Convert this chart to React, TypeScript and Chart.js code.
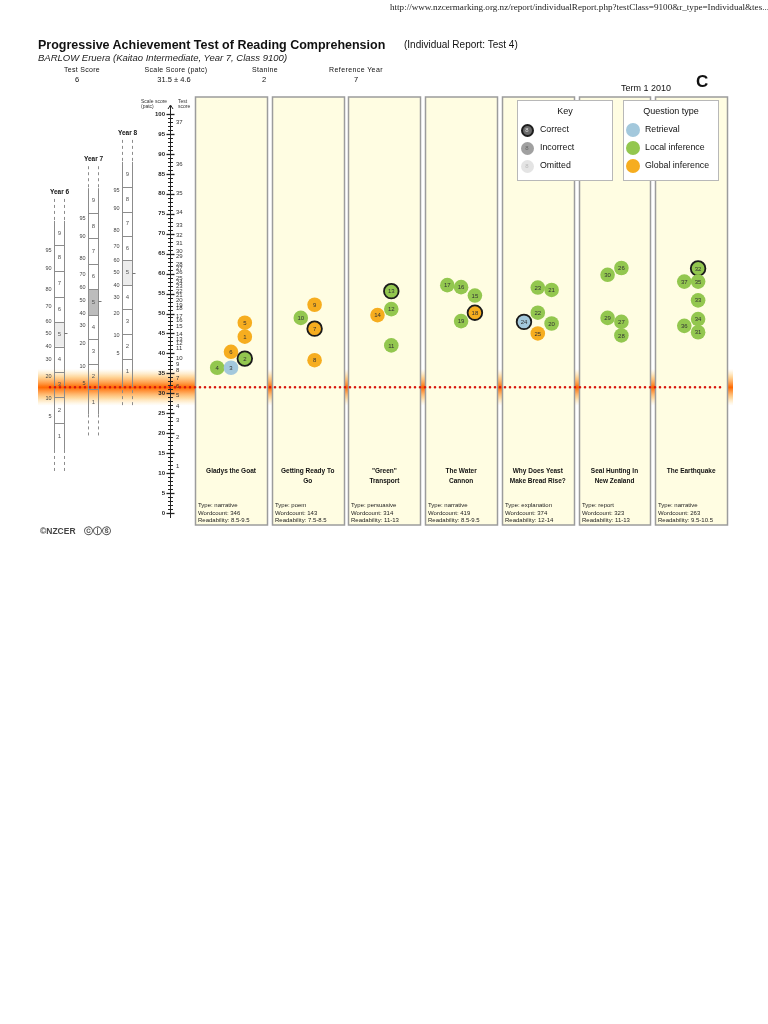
import React, { useEffect, useRef } from "react";
import { Chart, registerables } from "chart.js";

Chart.register(...registerables);

// ---------------- DATA ----------------
const reportTitle = "Progressive Achievement Test of Reading Comprehension";
const reportSubtitle = "(Individual Report: Test 4)";
const studentLine = "BARLOW Eruera (Kaitao Intermediate, Year 7, Class 9100)";
const pageUrl = "http://www.nzcermarking.org.nz/report/individualReport.php?testClass=9100&r_type=Individual&tes...";
const termLabel = "Term 1 2010";
const levelLetter = "C";

const testScore = 6;
const scaleScore = 31.5;
const scaleError = 4.6;
const stanine = 2;
const referenceYear = 7;

const passageTitles = [
  ["Gladys the Goat"],
  ["Getting Ready To", "Go"],
  ['"Green"', "Transport"],
  ["The Water", "Cannon"],
  ["Why Does Yeast", "Make Bread Rise?"],
  ["Seal Hunting In", "New Zealand"],
  ["The Earthquake"],
];
const passageTypes = ["narrative", "poem", "persuasive", "narrative", "explanation", "report", "narrative"];
const passageWordcounts = [346, 143, 314, 419, 374, 323, 263];
const passageReadability = ["8.5-9.5", "7.5-8.5", "11-13", "8.5-9.5", "12-14", "11-13", "9.5-10.5"];

const questionNumbers = [
  1, 2, 3, 4, 5, 6, 7, 8, 9, 10, 11, 12, 13, 14, 15, 16, 17, 18, 19, 20,
  21, 22, 23, 24, 25, 26, 27, 28, 29, 30, 31, 32, 33, 34, 35, 36, 37,
];
const questionPassage = [
  0, 0, 0, 0, 0, 0, 1, 1, 1, 1, 2, 2, 2, 2, 3, 3, 3, 3, 3, 4,
  4, 4, 4, 4, 4, 5, 5, 5, 5, 5, 6, 6, 6, 6, 6, 6, 6,
];
const questionDifficulty = [
  44.2, 38.7, 36.4, 36.4, 47.7, 40.4, 46.2, 38.3, 52.2, 48.9, 42.0, 51.1, 55.6, 49.6, 54.5, 56.6, 57.1, 50.2, 48.1, 47.5,
  55.9, 50.2, 56.5, 47.9, 45.0, 61.4, 47.9, 44.5, 48.9, 59.7, 45.3, 61.3, 53.3, 48.6, 58.0, 46.9, 58.0,
];
// R = retrieval, L = local inference, G = global inference
const questionType = [
  "G", "L", "R", "L", "G", "G", "G", "G", "G", "L", "L", "L", "L", "G", "L", "L", "L", "G", "L", "L",
  "L", "L", "L", "R", "G", "L", "L", "L", "L", "L", "L", "L", "L", "L", "L", "L", "L",
];
// side-by-side lane within a passage column (beeswarm slot)
const questionLane = [
  2, 2, 0, -2, 2, 0, 1, 1, 1, -1, 1, 1, 1, -1, 2, 0, -2, 2, 0, 2,
  2, 0, 0, -2, 0, 1, 1, 1, -1, -1, 1, 1, 1, 1, 1, -1, -1,
];
const questionCorrect = [
  0, 1, 0, 0, 0, 0, 1, 0, 0, 0, 0, 0, 1, 0, 0, 0, 0, 1, 0, 0,
  0, 0, 0, 1, 0, 0, 0, 0, 0, 0, 0, 1, 0, 0, 0, 0, 0,
];

const typeCodes = ["R", "L", "G"];
const typeNames = ["Retrieval", "Local inference", "Global inference"];
const keyNames = ["Correct", "Incorrect", "Omitted"];

const scaleTickLabels = [0, 5, 10, 15, 20, 25, 30, 35, 40, 45, 50, 55, 60, 65, 70, 75, 80, 85, 90, 95, 100];
const testScoreLabels = [
  1, 2, 3, 4, 5, 6, 7, 8, 9, 10, 11, 12, 13, 14, 15, 16, 17, 18, 19, 20,
  21, 22, 23, 24, 25, 26, 27, 28, 29, 30, 31, 32, 33, 34, 35, 36, 37,
];
const testScoreAt = [
  11.8, 19.0, 23.3, 26.8, 29.6, 31.7, 33.7, 35.7, 37.2, 38.8, 41.2, 42.4, 43.5, 44.9, 46.7, 48.2, 49.4, 51.2, 52.1, 53.4,
  54.6, 55.6, 56.7, 57.7, 58.9, 60.2, 61.2, 62.2, 64.2, 65.6, 67.6, 69.5, 72.2, 75.4, 80.0, 87.5, 98.0,
];

const yearLabels = ["Year 6", "Year 7", "Year 8"];
// stanine boundaries (scale score), top of stanine 9 down to bottom of stanine 1
const stanineYear6 = [73.2, 67.2, 60.7, 54.2, 47.9, 41.7, 35.3, 29.1, 22.5, 15.8];
const stanineYear7 = [81.4, 75.1, 68.8, 62.4, 56.1, 49.6, 43.5, 37.3, 31.0, 24.7];
const stanineYear8 = [88.0, 81.8, 75.5, 69.5, 63.4, 57.1, 51.1, 44.8, 38.6, 32.3];
const percentileLabels = [95, 90, 80, 70, 60, 50, 40, 30, 20, 10, 5];
const percentileYear6 = [65.9, 61.3, 55.9, 51.7, 48.1, 45.0, 41.7, 38.5, 34.2, 28.7, 24.1];
const percentileYear7 = [73.9, 69.4, 63.8, 59.8, 56.5, 53.2, 49.9, 46.9, 42.5, 36.8, 32.5];
const percentileYear8 = [80.8, 76.4, 70.7, 66.9, 63.4, 60.2, 57.0, 54.1, 50.0, 44.6, 40.0];

// ---------------- STYLE ----------------
const SANS = '"Liberation Sans", Arial, sans-serif';
const SERIF = '"Liberation Serif", "Times New Roman", serif';
const typeColors = ["#a3c8dc", "#93c74f", "#f6ad1f"];
const columnFill = "#fffde2";
const columnEdge = "#9c9c9c";
const laneStep = 0.09;
const colHalf = 0.469;
const barLefts = [54, 88, 122];
const barWidth = 10;
const stanineFive = ["#ececec", "#bcbcbc", "#ececec"];

const stanineSets = [stanineYear6, stanineYear7, stanineYear8];
const percentileSets = [percentileYear6, percentileYear7, percentileYear8];

function line(ctx: CanvasRenderingContext2D, x1: number, y1: number, x2: number, y2: number) {
  ctx.beginPath();
  ctx.moveTo(x1, y1);
  ctx.lineTo(x2, y2);
  ctx.stroke();
}

const reportPlugin = {
  id: "reportPlugin",
  beforeDraw(chart: any) {
    const { ctx, chartArea: ca, scales } = chart;
    const x = scales.x;
    const y = scales.y;
    ctx.save();

    // error band
    const bTop = y.getPixelForValue(scaleScore + scaleError);
    const bBot = y.getPixelForValue(scaleScore - scaleError);
    const g = ctx.createLinearGradient(0, bTop, 0, bBot);
    g.addColorStop(0, "rgba(255,225,160,0)");
    g.addColorStop(0.22, "rgba(255,200,120,0.75)");
    g.addColorStop(0.5, "rgba(255,104,0,1)");
    g.addColorStop(0.78, "rgba(255,200,120,0.75)");
    g.addColorStop(1, "rgba(255,225,160,0)");
    ctx.fillStyle = g;
    ctx.fillRect(38, bTop, 733 - 38, bBot - bTop);

    // passage columns
    const colTop = ca.top - 17;
    const colBot = ca.bottom + 12;
    passageTitles.forEach((title, i) => {
      const l = Math.round(x.getPixelForValue(i - colHalf)) + 0.5;
      const r = Math.round(x.getPixelForValue(i + colHalf)) + 0.5;
      ctx.fillStyle = columnFill;
      ctx.fillRect(l, colTop, r - l, colBot - colTop);
      ctx.strokeStyle = columnEdge;
      ctx.lineWidth = 1.5;
      ctx.strokeRect(l, colTop, r - l, colBot - colTop);
      const cx = x.getPixelForValue(i);
      ctx.fillStyle = "#111";
      ctx.font = `bold 6.5px ${SANS}`;
      ctx.textAlign = "center";
      ctx.textBaseline = "alphabetic";
      title.forEach((t, k) => ctx.fillText(t, cx, ca.bottom - 40 + k * 9.5));
      ctx.font = `6px ${SANS}`;
      ctx.textAlign = "left";
      ctx.fillStyle = "#222";
      ctx.fillText(`Type: ${passageTypes[i]}`, l + 2.5, ca.bottom - 6);
      ctx.fillText(`Wordcount: ${passageWordcounts[i]}`, l + 2.5, ca.bottom + 1.5);
      ctx.fillText(`Readability: ${passageReadability[i]}`, l + 2.5, ca.bottom + 8.5);
    });

    // stanine bars
    yearLabels.forEach((yl, k) => {
      const b = stanineSets[k];
      const L = barLefts[k] + 0.5;
      const R = L + barWidth;
      const top = y.getPixelForValue(b[0]);
      const bot = y.getPixelForValue(b[9]);
      ctx.fillStyle = stanineFive[k];
      const f1 = y.getPixelForValue(b[4]);
      const f2 = y.getPixelForValue(b[5]);
      ctx.fillRect(L, f1, barWidth, f2 - f1);
      ctx.strokeStyle = "#8c8c8c";
      ctx.lineWidth = 1;
      ctx.setLineDash([]);
      line(ctx, L, top, L, bot);
      line(ctx, R, top, R, bot);
      for (let j = 1; j < 9; j++) {
        const yy = Math.round(y.getPixelForValue(b[j])) + 0.5;
        line(ctx, L, yy, R, yy);
      }
      ctx.setLineDash([3, 3]);
      line(ctx, L, top - 22, L, top);
      line(ctx, R, top - 22, R, top);
      line(ctx, L, bot, L, bot + 21);
      line(ctx, R, bot, R, bot + 21);
      ctx.setLineDash([]);
      // stanine numbers
      ctx.fillStyle = "#555";
      ctx.font = `6px ${SANS}`;
      ctx.textAlign = "center";
      ctx.textBaseline = "middle";
      for (let s = 0; s < 9; s++) {
        const cy = (y.getPixelForValue(b[s]) + y.getPixelForValue(b[s + 1])) / 2;
        ctx.fillText(String(9 - s), L + barWidth / 2, cy);
      }
      // year label
      ctx.fillStyle = "#111";
      ctx.font = `bold 6.5px ${SANS}`;
      ctx.fillText(yl, L + barWidth / 2, top - 29);
      // percentile labels
      ctx.fillStyle = "#444";
      ctx.font = `5.5px ${SANS}`;
      ctx.textAlign = "right";
      percentileSets[k].forEach((p, m) => {
        ctx.fillText(String(percentileLabels[m]), L - 3, y.getPixelForValue(p));
      });
      // median marker
      const ym = Math.round(y.getPixelForValue(percentileSets[k][5])) + 0.5;
      ctx.strokeStyle = "#777";
      line(ctx, R, ym, R + 3, ym);
    });
    ctx.restore();
  },
  beforeDatasetsDraw(chart: any) {
    const { ctx, chartArea: ca, scales } = chart;
    const y = scales.y;
    const ax = ca.left + 0.5;
    ctx.save();
    ctx.strokeStyle = "#222";
    ctx.lineWidth = 1;
    line(ctx, ax, ca.top - 8, ax, ca.bottom + 5);
    // arrow head
    ctx.beginPath();
    ctx.moveTo(ax - 2.5, ca.top - 5);
    ctx.lineTo(ax, ca.top - 9);
    ctx.lineTo(ax + 2.5, ca.top - 5);
    ctx.stroke();
    for (let v = 0; v <= 100; v++) {
      const yy = Math.round(y.getPixelForValue(v)) + 0.5;
      const h = v % 5 === 0 ? 4 : 2.5;
      ctx.lineWidth = v % 5 === 0 ? 1.3 : 1;
      line(ctx, ax - h, yy, ax + h, yy);
    }
    // test score labels
    ctx.fillStyle = "#333";
    ctx.font = `6px ${SANS}`;
    ctx.textAlign = "left";
    ctx.textBaseline = "middle";
    testScoreLabels.forEach((t, i) => ctx.fillText(String(t), ax + 5.5, y.getPixelForValue(testScoreAt[i])));
    // axis headers
    ctx.font = `5px ${SANS}`;
    ctx.fillStyle = "#333";
    ctx.textBaseline = "alphabetic";
    ctx.fillText("Scale score", ca.left - 29, ca.top - 11);
    ctx.fillText("(patc)", ca.left - 29, ca.top - 6);
    ctx.fillText("Test", ca.left + 8, ca.top - 11);
    ctx.fillText("score", ca.left + 8, ca.top - 6);
    ctx.restore();
  },
  afterDatasetsDraw(chart: any) {
    const { ctx, scales } = chart;
    const y = scales.y;
    ctx.save();
    // dotted score line
    const yy = y.getPixelForValue(scaleScore);
    ctx.strokeStyle = "#d8150d";
    ctx.lineWidth = 2.6;
    ctx.lineCap = "round";
    ctx.setLineDash([0, 5]);
    line(ctx, 50, yy, 721, yy);
    ctx.setLineDash([]);
    // question numbers
    ctx.fillStyle = "#333";
    ctx.font = `6px ${SANS}`;
    ctx.textAlign = "center";
    ctx.textBaseline = "middle";
    chart.data.datasets.forEach((ds: any, di: number) => {
      const meta = chart.getDatasetMeta(di);
      meta.data.forEach((el: any, j: number) => {
        ctx.fillText(String(ds.data[j].q), el.x, el.y + 0.5);
      });
    });
    ctx.restore();
  },
};

const Txt = ({ x, y, size, children, bold, italic, align, family, color, spacing }: any) => {
  const style: any = {
    position: "absolute",
    top: y - size * 0.86,
    fontSize: size,
    lineHeight: `${size}px`,
    fontFamily: family || SANS,
    fontWeight: bold ? "bold" : "normal",
    fontStyle: italic ? "italic" : "normal",
    color: color || "#111",
    whiteSpace: "nowrap",
    letterSpacing: spacing || 0,
  };
  if (align === "center") {
    style.left = x - 150;
    style.width = 300;
    style.textAlign = "center";
  } else {
    style.left = x;
  }
  return <div style={style}>{children}</div>;
};

const circle = (cx: number, cy: number, d: number, bg: string, border?: string, label?: string, labelColor?: string) => (
  <div
    key={`c${cx}-${cy}`}
    style={{
      position: "absolute",
      left: cx - d / 2,
      top: cy - d / 2,
      width: d,
      height: d,
      borderRadius: "50%",
      background: bg,
      border: border || "none",
      boxSizing: "border-box",
      fontSize: 6,
      lineHeight: `${d - (border ? 4 : 0)}px`,
      textAlign: "center",
      color: labelColor || "#333",
      fontFamily: SANS,
    }}
  >
    {label}
  </div>
);

export default function App() {
  const ref = useRef<HTMLCanvasElement>(null);
  useEffect(() => {
    const datasets = typeCodes.map((code, t) => ({
      label: typeNames[t],
      data: questionNumbers
        .map((q, i) => ({
          x: questionPassage[i] + questionLane[i] * laneStep,
          y: questionDifficulty[i],
          q,
          correct: questionCorrect[i],
          type: questionType[i],
        }))
        .filter((d) => d.type === code),
      backgroundColor: typeColors[t],
      borderColor: (c: any) => (c.raw && c.raw.correct ? "#1b1b1b" : typeColors[t]),
      borderWidth: (c: any) => (c.raw && c.raw.correct ? 1.8 : 0),
      pointRadius: 7.3,
      pointHoverRadius: 7.3,
    }));
    const chart = new Chart(ref.current as HTMLCanvasElement, {
      type: "scatter",
      data: { datasets } as any,
      options: {
        animation: false,
        responsive: false,
        events: [],
        layout: { padding: { left: 140, top: 114, right: 38, bottom: 511 } },
        plugins: { legend: { display: false }, tooltip: { enabled: false } },
        scales: {
          x: { type: "linear", min: -0.7953, max: 6.506, display: false },
          y: {
            type: "linear",
            min: 0,
            max: 100,
            position: "left",
            afterFit: (s: any) => {
              s.width = 30;
            },
            grid: { display: false, drawTicks: false },
            border: { display: false },
            afterBuildTicks: (s: any) => {
              s.ticks = scaleTickLabels.map((v) => ({ value: v }));
            },
            ticks: {
              autoSkip: false,
              padding: 5,
              color: "#222",
              font: { size: 6, weight: "bold", family: SANS },
            },
          },
        },
      } as any,
      plugins: [reportPlugin],
    });
    return () => chart.destroy();
  }, []);

  return (
    <div style={{ position: "absolute", left: 0, top: 0, width: 768, height: 1024, background: "#fff", overflow: "hidden" }}>
      <canvas ref={ref} width={768} height={1024} style={{ position: "absolute", left: 0, top: 0, width: 768, height: 1024 }} />
      <Txt x={390} y={11} size={9.1} family={SERIF} color="#222">{pageUrl}</Txt>
      <Txt x={38} y={49.5} size={12.5} bold>{reportTitle}</Txt>
      <Txt x={404} y={49} size={10}>{reportSubtitle}</Txt>
      <Txt x={38} y={61} size={9.5} italic color="#222">{studentLine}</Txt>
      <Txt x={82} y={72} size={7} align="center" spacing={0.3}>Test Score</Txt>
      <Txt x={176} y={72} size={7} align="center" spacing={0.3}>Scale Score (patc)</Txt>
      <Txt x={265} y={72} size={7} align="center" spacing={0.3}>Stanine</Txt>
      <Txt x={356} y={72} size={7} align="center" spacing={0.4}>Reference Year</Txt>
      <Txt x={77} y={82.5} size={7.5} align="center">{String(testScore)}</Txt>
      <Txt x={174} y={82.5} size={7.5} align="center">{`${scaleScore} ± ${scaleError}`}</Txt>
      <Txt x={264} y={82.5} size={7.5} align="center">{String(stanine)}</Txt>
      <Txt x={356} y={82.5} size={7.5} align="center">{String(referenceYear)}</Txt>
      <Txt x={621} y={91.5} size={9}>{termLabel}</Txt>
      <Txt x={696} y={88} size={17} bold>{levelLetter}</Txt>

      {/* Key */}
      <div style={{ position: "absolute", left: 517, top: 100, width: 96, height: 81, background: "#fff", border: "1px solid #b8b8b8", boxSizing: "border-box" }} />
      <Txt x={565} y={115} size={9} align="center">Key</Txt>
      {circle(527, 130, 13, "#6a6a6a", "2px solid #1e1e1e", "8", "#ddd")}
      {circle(527, 148, 13, "#a0a0a0", undefined, "8", "#666")}
      {circle(527, 166, 13, "#e4e4e4", undefined, "8", "#bbb")}
      {keyNames.map((k, i) => (
        <Txt key={k} x={540} y={133 + i * 18} size={8.8}>{k}</Txt>
      ))}
      <div style={{ position: "absolute", left: 623, top: 100, width: 96, height: 81, background: "#fff", border: "1px solid #b8b8b8", boxSizing: "border-box" }} />
      <Txt x={671} y={115} size={9} align="center">Question type</Txt>
      {typeNames.map((n, i) => circle(633, 130 + i * 18, 14, typeColors[i]))}
      {typeNames.map((n, i) => (
        <Txt key={n} x={645} y={133 + i * 18} size={8.8}>{n}</Txt>
      ))}

      {/* Footer */}
      <Txt x={40} y={534} size={8.5} bold color="#444">©NZCER</Txt>
      <Txt x={84} y={534} size={8.5} bold color="#555">ⓒⓘⓢ</Txt>
    </div>
  );
}
